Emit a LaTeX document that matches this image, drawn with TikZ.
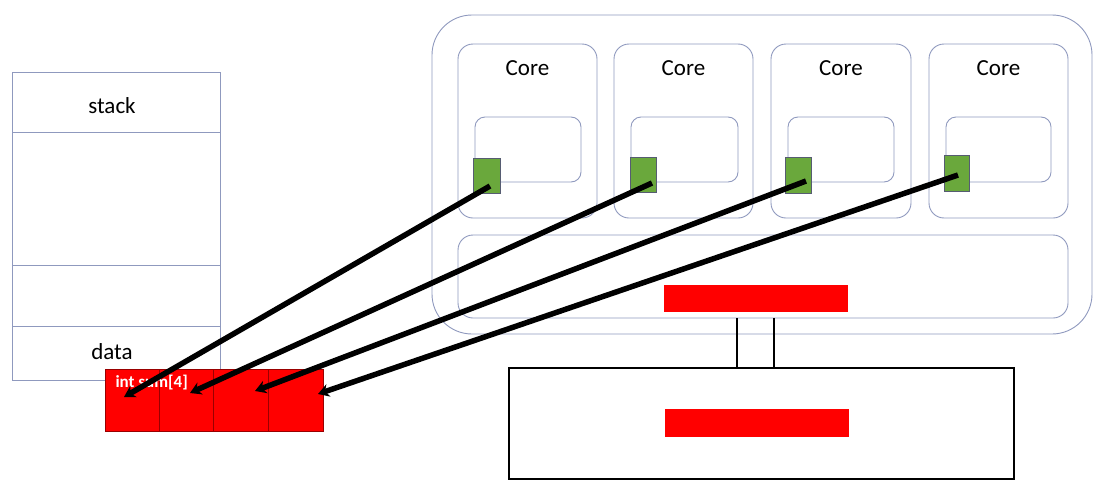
\documentclass[tikz,border=0pt]{standalone}
\usepackage{fontspec}
\setmainfont{Carlito}
\usetikzlibrary{arrows.meta}
\definecolor{frame}{RGB}{143,153,190}
\definecolor{grn}{RGB}{106,168,60}
\begin{document}
\begin{tikzpicture}[x=1pt,y=-1pt,
  thin/.style={draw=frame,line width=0.9pt},
  core/.style={thin,rounded corners=15pt},
  sq/.style={fill=grn,draw=frame!60!black,line width=0.5pt},
  wire/.style={line width=5.5pt,-{Stealth[length=11pt,width=13pt]}},
  lbl/.style={font=\fontsize{23}{23}\selectfont}]
\useasboundingbox (0,0) rectangle (1100,490);
% memory column
\draw[thin] (12,72) rectangle (220,380);
\draw[thin] (12,132)--(220,132) (12,265)--(220,265) (12,326)--(220,326);
\node[lbl] (stack) at (112,106) {stack};
\node[lbl] (data) at (112,352) {data};
% array
\fill[red] (105,369) rectangle (323,431);
\draw[draw=red!60!black,line width=0.6pt] (105,369) rectangle (323,431) (159,369)--(159,431) (213,369)--(213,431) (268,369)--(268,431);
\node[anchor=west,text=white,font=\bfseries\fontsize{17}{17}\selectfont] (arr) at (112,383) {int sum[4]};
% outer
\draw[thin,rounded corners=40pt] (432,15) rectangle (1092,334);
\foreach \a/\b/\n in {458/597/1,614/753/2,771/911/3,929/1068/4}{
  \draw[core] (\a,44) rectangle (\b,218);
  \node[lbl] (c\n) at ({(\a+\b)/2},68) {Core};
}
\foreach \a/\b in {475/581,631/738,788/894,946/1051}{
  \draw[core,rounded corners=10pt] (\a,117) rectangle (\b,182);
}
\draw[sq] (473,158) rectangle (500,193);
\draw[sq] (630,157) rectangle (656,192);
\draw[sq] (785,157) rectangle (811,193);
\draw[sq] (944,155) rectangle (969,191);
\draw[core] (458,235) rectangle (1068,318);
\fill[red] (664,285) rectangle (848,312);
\draw[line width=1.5pt] (737,318)--(737,369) (774,318)--(774,369);
\draw[line width=2pt] (509,368) rectangle (1014,479);
\fill[red] (665,409) rectangle (849,437);
% wires
\coordinate (g1) at (490,186); \coordinate (a1) at (124,397);
\coordinate (g2) at (652,183); \coordinate (a2) at (190,393);
\coordinate (g3) at (806,181); \coordinate (a3) at (255,391);
\coordinate (g4) at (958,175); \coordinate (a4) at (318,394);
\draw[wire] (g1)--(a1);
\draw[wire] (g2)--(a2);
\draw[wire] (g3)--(a3);
\draw[wire] (g4)--(a4);
\end{tikzpicture}
\end{document}
